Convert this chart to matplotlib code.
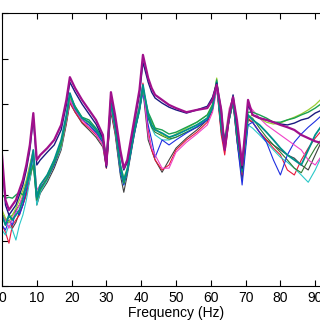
import matplotlib
matplotlib.use("Agg")
import matplotlib.pyplot as plt

plt.rcParams['font.family'] = ['Liberation Sans', 'DejaVu Sans']

# frequency points (Hz)
freq = [0, 1, 2, 3, 4, 5, 6, 7, 8, 9, 10, 11, 13, 15, 17, 18.5, 19.5, 21, 23, 25,
        27, 29, 30, 31.3, 32.5, 34, 35, 36, 38, 39.5, 40.5, 42, 43, 44, 46, 48, 50, 53, 56, 59,
        60.5, 61.7, 63, 64, 65.3, 66.4, 67.5, 69, 70.7, 72, 74, 76, 78, 80, 82, 84, 86, 88, 90, 92]

# response levels (dB) per measurement
navy = [-92.3, -102.2, -104.4, -103.3, -102.2, -100.0, -97.8, -94.5, -90.1, -83.1,
        -93.4, -92.3, -90.6, -89.0, -85.7, -80.2, -75.2, -77.4, -80.0, -82.2,
        -84.4, -87.5, -93.9, -78.0, -83.1, -90.8, -94.5, -92.8, -84.2, -78.0,
        -70.8, -75.2, -77.4, -78.7, -79.8, -80.7, -81.3, -82.0, -81.3, -80.5,
        -78.5, -75.4, -81.3, -89.7, -82.4, -78.0, -84.6, -94.1, -80.2, -82.4,
        -83.1, -83.5, -84.0, -84.4, -84.6, -84.2, -83.5, -83.1, -82.0, -81.3]
magenta = [-91.2, -101.1, -103.3, -102.2, -101.1, -98.9, -96.7, -93.4, -89.0, -82.0,
           -92.3, -91.2, -89.7, -87.9, -84.6, -79.1, -74.1, -76.5, -79.1, -81.3,
           -83.5, -86.8, -93.4, -77.4, -82.4, -90.1, -94.1, -92.3, -83.5, -76.9,
           -69.2, -74.3, -76.5, -78.0, -79.1, -80.2, -80.9, -81.8, -81.3, -80.9,
           -79.1, -75.8, -81.3, -90.1, -82.4, -78.5, -83.5, -93.4, -79.1, -82.4,
           -83.1, -83.5, -84.0, -84.6, -85.1, -85.7, -86.8, -87.5, -88.2, -88.6]
teal = [-104.4, -106.6, -104.4, -105.5, -104.4, -103.3, -101.1, -97.8, -94.5, -90.1,
        -100.5, -97.8, -95.6, -92.3, -87.9, -82.4, -77.6, -80.9, -83.1, -84.0,
        -85.7, -87.9, -92.3, -79.8, -84.6, -93.4, -96.7, -94.5, -85.7, -80.9,
        -75.8, -82.4, -84.6, -85.7, -86.4, -87.3, -86.8, -85.7, -84.6, -83.1,
        -80.9, -75.2, -84.6, -87.9, -83.1, -79.1, -85.7, -94.5, -82.4, -83.5,
        -84.6, -86.2, -87.9, -89.7, -91.2, -92.3, -93.4, -90.1, -86.8, -84.6]
green = [-100.0, -100.7, -100.5, -100.7, -100.0, -99.4, -100.0, -97.8, -95.6, -93.4,
         -101.1, -98.9, -96.3, -93.0, -89.0, -83.1, -78.0, -80.5, -82.9, -83.5,
         -85.3, -87.5, -91.9, -80.2, -85.3, -94.1, -97.4, -94.5, -86.2, -81.3,
         -76.5, -81.8, -83.5, -85.3, -85.7, -86.6, -86.2, -85.1, -84.0, -82.4,
         -80.2, -74.7, -85.3, -89.0, -82.4, -78.5, -86.8, -94.5, -81.8, -81.8,
         -82.4, -83.1, -84.0, -84.0, -83.5, -83.1, -82.4, -81.8, -80.9, -79.8]
blue = [-106.6, -107.7, -105.5, -106.6, -103.3, -104.4, -102.2, -98.9, -95.0, -91.2,
        -101.1, -98.5, -96.3, -93.4, -89.0, -83.5, -79.1, -81.3, -83.5, -84.6,
        -86.2, -88.4, -93.4, -80.9, -85.7, -95.0, -97.8, -95.0, -86.8, -81.3,
        -77.4, -84.6, -87.9, -91.7, -87.9, -89.0, -87.9, -86.4, -85.1, -83.5,
        -80.9, -75.6, -85.7, -90.1, -82.4, -79.1, -87.9, -97.8, -84.6, -84.0,
        -86.2, -88.4, -92.3, -95.6, -91.2, -88.4, -86.6, -85.1, -83.8, -82.4]
red = [-106.6, -108.2, -110.6, -106.6, -105.5, -104.4, -102.2, -100.0, -96.3, -92.3,
       -100.0, -98.9, -96.7, -93.4, -89.7, -84.0, -79.6, -81.8, -84.0, -85.3,
       -86.8, -89.0, -94.1, -81.3, -86.2, -94.5, -97.2, -95.0, -85.7, -80.2,
       -75.4, -85.7, -90.1, -92.3, -94.5, -93.4, -90.1, -87.9, -86.2, -84.0,
       -81.3, -76.1, -86.8, -91.2, -83.1, -79.6, -87.9, -95.6, -83.1, -84.0,
       -86.2, -87.9, -89.7, -91.2, -94.5, -95.6, -92.3, -89.7, -87.5, -85.7]
black = [-104.4, -106.6, -105.5, -107.3, -106.0, -103.8, -102.2, -99.6, -96.7, -92.8,
         -102.2, -99.6, -97.2, -94.1, -90.1, -84.4, -79.8, -81.8, -84.2, -85.7,
         -87.3, -89.5, -94.1, -81.8, -86.6, -95.6, -99.4, -95.6, -86.8, -80.9,
         -76.9, -87.9, -90.1, -92.3, -95.0, -92.3, -89.7, -87.5, -85.7, -83.5,
         -80.9, -76.1, -86.2, -90.1, -83.5, -79.8, -87.9, -96.7, -83.5, -84.0,
         -86.2, -87.9, -89.0, -90.1, -91.2, -91.9, -93.4, -94.5, -91.2, -87.9]
cyan = [-107.7, -108.8, -106.6, -107.7, -109.9, -106.6, -104.4, -101.1, -96.7, -91.9,
        -102.2, -99.4, -96.7, -93.4, -89.7, -83.5, -78.7, -80.9, -83.5, -84.6,
        -86.4, -88.6, -92.8, -80.5, -85.3, -95.0, -97.8, -95.0, -86.4, -81.8,
        -76.9, -83.1, -85.3, -86.8, -87.9, -87.9, -87.3, -86.2, -84.9, -83.1,
        -80.5, -75.4, -85.3, -89.0, -83.5, -79.1, -86.8, -95.0, -84.6, -85.3,
        -86.8, -88.4, -90.1, -91.7, -92.8, -94.1, -95.6, -97.2, -94.5, -91.2]
pink = [-104.4, -105.5, -107.3, -105.1, -103.8, -102.2, -100.0, -97.2, -93.4, -90.1,
        -98.9, -97.8, -96.1, -92.8, -89.0, -83.5, -79.1, -81.3, -83.5, -85.1,
        -86.6, -89.0, -93.4, -80.9, -85.7, -94.1, -96.7, -94.5, -85.7, -80.2,
        -75.8, -86.8, -89.7, -91.2, -94.1, -94.1, -90.6, -88.4, -86.6, -84.6,
        -81.8, -76.9, -83.5, -87.5, -80.9, -78.7, -85.7, -92.3, -80.2, -81.3,
        -83.1, -84.6, -85.7, -86.8, -87.9, -89.0, -90.1, -92.3, -93.4, -91.2]
yellowgreen = [-103.3, -105.1, -106.0, -104.4, -102.9, -101.1, -98.9, -96.7, -93.4, -90.6,
               -100.0, -97.8, -95.6, -92.3, -89.0, -83.1, -78.5, -80.5, -83.1, -84.2,
               -85.7, -87.9, -92.3, -80.2, -84.9, -93.4, -96.3, -94.1, -85.3, -80.7,
               -76.3, -82.4, -84.0, -85.3, -86.8, -87.5, -86.6, -85.3, -84.0, -82.4,
               -80.0, -74.3, -84.6, -87.9, -81.8, -78.3, -85.7, -94.1, -83.1, -82.4,
               -83.1, -84.0, -84.4, -84.2, -83.5, -82.9, -82.2, -81.3, -80.2, -78.7]
darkgreen = [-104.0, -105.5, -105.0, -104.4, -103.3, -102.2, -100.5, -97.4, -94.1, -91.2,
             -100.7, -98.5, -96.3, -92.8, -88.6, -83.1, -78.3, -81.3, -83.5, -84.6,
             -86.2, -88.4, -92.8, -80.2, -85.1, -93.9, -97.2, -94.8, -86.2, -81.3,
             -76.3, -83.1, -85.1, -86.2, -87.0, -87.7, -87.3, -86.2, -85.1, -83.5,
             -81.1, -75.8, -85.1, -88.4, -83.5, -79.6, -86.2, -95.0, -82.9, -83.1,
             -85.3, -87.3, -89.0, -90.6, -92.3, -94.1, -95.1, -92.3, -89.7, -87.5]

series = [
    (black, '#404040', 0.8),
    (red, '#e8173c', 0.8),
    (cyan, '#2ac8c8', 0.8),
    (darkgreen, '#2f7a2f', 0.8),
    (blue, '#1f2fe0', 0.8),
    (pink, '#f040c8', 0.8),
    (yellowgreen, '#9acd32', 0.9),
    (green, '#1aa050', 1.0),
    (teal, '#00908c', 1.3),
    (navy, '#1a1a80', 1.0),
    (magenta, '#a0108c', 1.6),
]

fig = plt.figure(figsize=(3.2, 3.2), dpi=100)
ax = fig.add_axes([2 / 320, 34 / 320, 348 / 320, 273 / 320])

for values, color, lw in series:
    ax.plot(freq, values, color=color, linewidth=lw)

ax.set_xlim(0, 100)
ax.set_ylim(-120, -60)
ax.set_xticks(range(0, 101, 10))
ax.set_yticks(range(-120, -59, 10))
ax.tick_params(direction='in', top=True, right=True, length=4, labelsize=10)
ax.set_xlabel('Frequency (Hz)', fontsize=10, labelpad=1)

fig.savefig('out.png', dpi=100)
